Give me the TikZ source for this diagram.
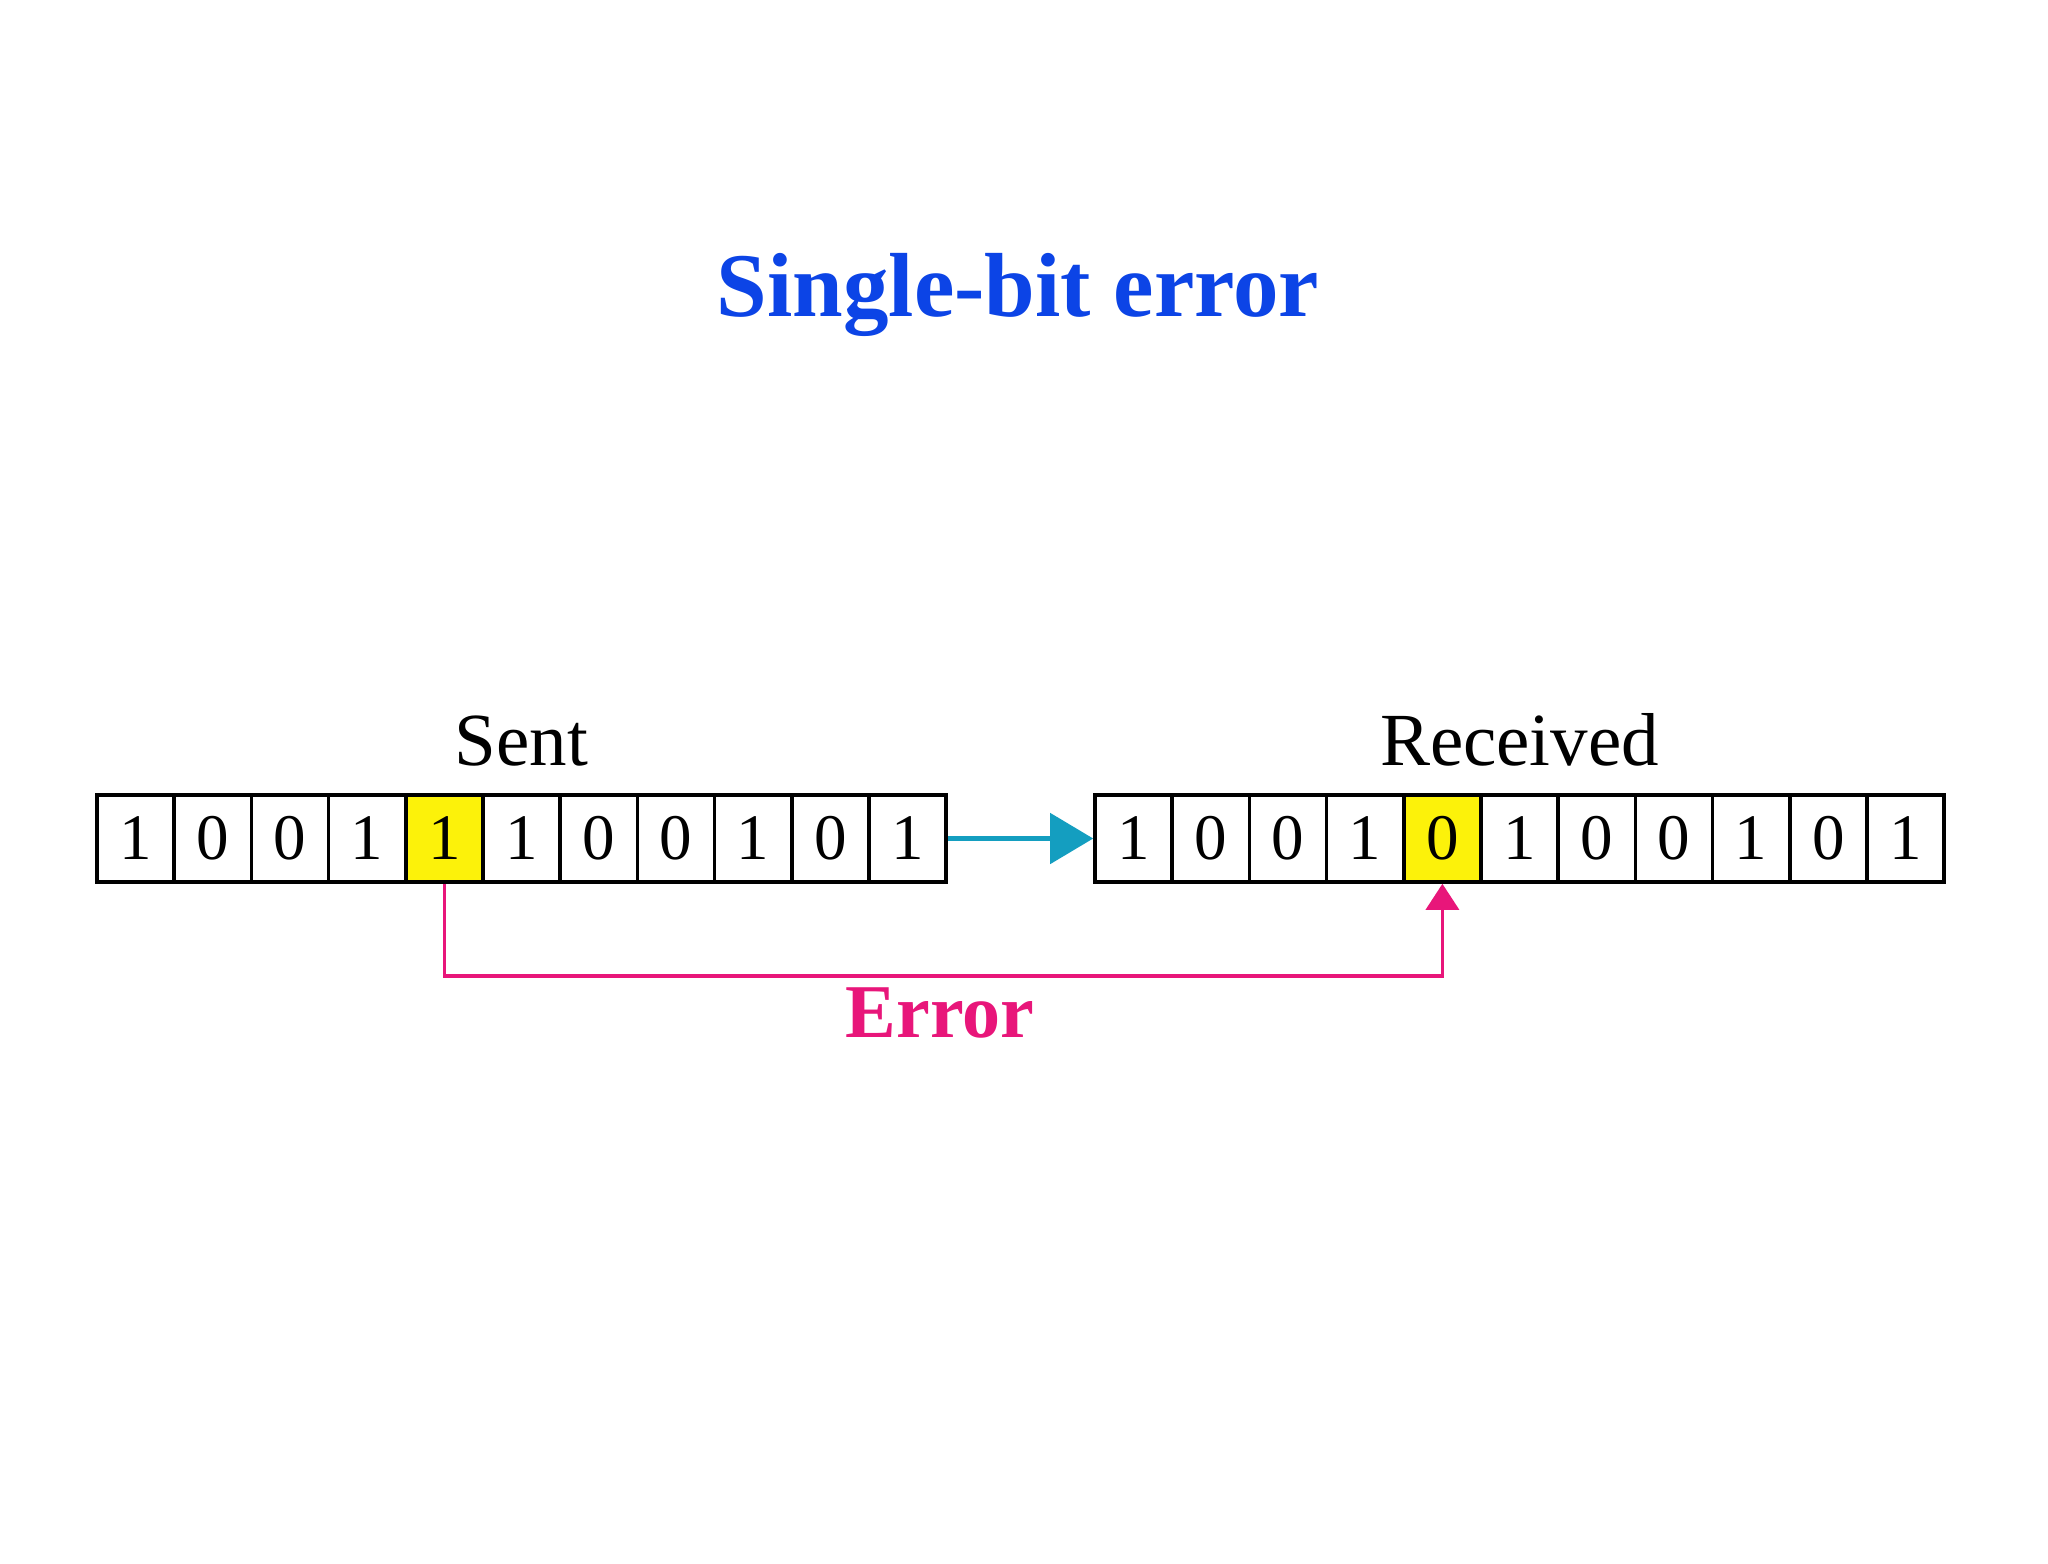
\documentclass[tikz,border=0pt]{standalone}
\usepackage{fontspec}
\setmainfont{Liberation Serif}
\usetikzlibrary{arrows.meta}
\definecolor{titleblue}{RGB}{12,68,230}
\definecolor{errpink}{RGB}{232,22,122}
\definecolor{arrteal}{RGB}{20,158,192}
\definecolor{bityellow}{RGB}{252,242,10}
\tikzset{
  cell/.style={draw=black, line width=1.8pt, minimum width=38.6pt, minimum height=43.5pt,
    inner sep=0pt, font=\fontsize{32.5pt}{36pt}\selectfont},
  rowlabel/.style={anchor=base, inner sep=0pt, font=\fontsize{37.5pt}{42pt}\selectfont},
  titletext/.style={anchor=base, inner sep=0pt, text=titleblue, font=\fontsize{45.5pt}{50pt}\selectfont\bfseries},
  errtext/.style={anchor=base, inner sep=0pt, text=errpink, font=\fontsize{38pt}{42pt}\selectfont\bfseries},
  sendarrow/.style={draw=arrteal, line width=2.4pt, -{Triangle[length=21.5pt,width=25pt]}},
  errarrow/.style={draw=errpink, line width=1.7pt, -{Triangle[length=13pt,width=16.5pt]}}
}
\begin{document}
\begin{tikzpicture}[x=0.5pt,y=-0.5pt]
\useasboundingbox[fill=white] (0,0) rectangle (2048,1563);
\node[titletext] (title) at (1018,316) {Single-bit error};
\foreach \b/\f [count=\i from 0] in {1/white,0/white,0/white,1/white,1/bityellow,1/white,0/white,0/white,1/white,0/white,1/white}
  \node[cell, fill=\f] (s\i) at ({97+77.2*(\i+0.5)},838.5) {\b};
\foreach \b/\f [count=\i from 0] in {1/white,0/white,0/white,1/white,0/bityellow,1/white,0/white,0/white,1/white,0/white,1/white}
  \node[cell, fill=\f] (r\i) at ({1095+77.2*(\i+0.5)},838.5) {\b};
\node[rowlabel] (sent) at (521.5,765) {Sent};
\node[rowlabel] (recv) at (1519.5,765) {Received};
\draw[sendarrow] (s10.east) -- (r0.west);
\coordinate (bend) at (s4.south |- 0,976);
\draw[errarrow] (s4.south) -- (bend) -| (r4.south);
\node[errtext] (err) at (940,1037) {Error};
\end{tikzpicture}
\end{document}
